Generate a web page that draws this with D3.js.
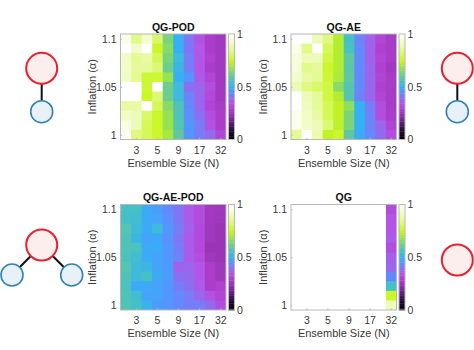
<!DOCTYPE html>
<html>
<head>
<meta charset="utf-8">
<script src="https://cdn.jsdelivr.net/npm/d3@7"></script>
<style>
  html, body { margin: 0; padding: 0; background: #fff; overflow: hidden; }
  text { font-family: "Liberation Sans", Arial, sans-serif; fill: #3a3a3a; }
</style>
</head>
<body>
<div id="main"></div>
<script>
// --- data
const ensembleSizes = [2, 3, 4, 5, 7, 9, 13, 17, 25, 32];
const inflations = [1.1, 1.09, 1.08, 1.07, 1.06, 1.05, 1.04, 1.03, 1.02, 1.01, 1];
const xTickLabels = [3, 5, 9, 17, 32];
const yTickLabels = [1, 1.05, 1.1];
const colorTicks = [0, 0.5, 1];

// rows run from inflation 1.1 down to 1
const qgPod = [
  [0.97, 0.85, 0.93, 0.82, 0.64, 0.50, 0.41, 0.34, 0.29, 0.27],
  [1.00, 0.92, 1.00, 0.76, 0.66, 0.50, 0.41, 0.35, 0.29, 0.27],
  [0.92, 0.86, 0.88, 0.80, 0.64, 0.53, 0.42, 0.35, 0.30, 0.27],
  [0.93, 0.87, 0.87, 0.83, 0.62, 0.52, 0.42, 0.35, 0.29, 0.27],
  [0.92, 0.86, 0.77, 0.77, 0.68, 0.50, 0.46, 0.36, 0.31, 0.27],
  [1.00, 1.00, 0.77, 1.00, 0.62, 0.53, 0.40, 0.38, 0.33, 0.27],
  [1.00, 1.00, 0.76, 0.83, 0.62, 0.53, 0.43, 0.38, 0.32, 0.27],
  [0.88, 0.88, 1.00, 0.80, 0.66, 0.57, 0.44, 0.38, 0.31, 0.28],
  [0.92, 0.90, 0.82, 0.76, 0.68, 0.57, 0.45, 0.40, 0.33, 0.29],
  [0.96, 0.90, 0.80, 0.76, 0.68, 0.58, 0.46, 0.42, 0.34, 0.29],
  [0.98, 0.84, 0.80, 0.76, 0.70, 0.60, 0.46, 0.42, 0.39, 0.31]
];
const qgAe = [
  [1.00, 1.00, 0.90, 0.84, 0.72, 0.55, 0.43, 0.37, 0.31, 0.28],
  [0.97, 0.85, 1.00, 0.80, 0.72, 0.56, 0.44, 0.37, 0.30, 0.28],
  [0.95, 0.90, 0.90, 0.78, 0.72, 0.60, 0.44, 0.37, 0.31, 0.28],
  [0.95, 0.85, 0.87, 0.76, 0.72, 0.59, 0.44, 0.38, 0.30, 0.27],
  [0.93, 0.88, 0.86, 0.77, 0.71, 0.60, 0.44, 0.38, 0.31, 0.28],
  [0.90, 0.84, 0.82, 0.78, 0.66, 0.58, 0.44, 0.38, 0.30, 0.28],
  [1.00, 0.90, 0.87, 0.78, 0.72, 0.58, 0.43, 0.38, 0.31, 0.28],
  [1.00, 0.91, 0.87, 0.80, 0.74, 0.67, 0.50, 0.42, 0.33, 0.28],
  [0.97, 0.92, 0.88, 0.80, 0.74, 0.64, 0.50, 0.43, 0.33, 0.29],
  [0.97, 0.92, 0.90, 0.83, 0.73, 0.64, 0.50, 0.43, 0.38, 0.31],
  [0.86, 1.00, 0.89, 0.74, 0.76, 0.60, 0.49, 0.44, 0.39, 0.33]
];
const qgAePod = [
  [0.55, 0.55, 0.49, 0.47, 0.44, 0.41, 0.36, 0.33, 0.27, 0.26],
  [0.55, 0.54, 0.49, 0.48, 0.45, 0.41, 0.36, 0.33, 0.27, 0.26],
  [0.58, 0.53, 0.49, 0.53, 0.46, 0.42, 0.37, 0.32, 0.26, 0.25],
  [0.57, 0.52, 0.48, 0.49, 0.45, 0.41, 0.36, 0.32, 0.26, 0.25],
  [0.57, 0.56, 0.49, 0.49, 0.46, 0.42, 0.36, 0.32, 0.25, 0.25],
  [0.56, 0.54, 0.49, 0.48, 0.46, 0.43, 0.36, 0.33, 0.26, 0.25],
  [0.58, 0.53, 0.52, 0.48, 0.47, 0.37, 0.38, 0.35, 0.29, 0.26],
  [0.57, 0.53, 0.55, 0.49, 0.47, 0.40, 0.39, 0.35, 0.29, 0.26],
  [0.56, 0.49, 0.49, 0.48, 0.46, 0.42, 0.40, 0.36, 0.29, 0.30],
  [0.57, 0.54, 0.48, 0.48, 0.46, 0.44, 0.42, 0.38, 0.34, 0.31],
  [0.57, 0.55, 0.51, 0.47, 0.46, 0.44, 0.42, 0.42, 0.39, 0.33]
];
// QG only has values for the largest ensemble, the rest diverged
const qgLastColumn = [0.33, 0.35, 0.35, 0.36, 0.33, 0.37, 0.38, 0.44, 0.55, 0.76, 0.90];

const colorStops = [0, 0.1, 0.2, 0.25, 0.3, 0.35, 0.4, 0.45, 0.5, 0.55, 0.6, 0.65, 0.7, 0.75, 0.8, 0.9, 1];
const colorValues = ['#000000', '#2a1040', '#7a2a9a', '#9a35b8', '#b040d0', '#b455e8', '#8a70f0', '#5a90ff',
  '#35b0f5', '#45c0c8', '#60c8a0', '#80d870', '#a5e840', '#c8f520', '#d5f858', '#eefbb8', '#ffffff'];

const color = d3.scaleLinear().domain(colorStops).range(colorValues).clamp(true);

const svg = d3.select('#main')
  .append('svg')
  .attr('width', 474)
  .attr('height', 350);

// the reference is a soft raster, cells bleed into each other a little
svg.append('defs').append('filter')
  .attr('id', 'soft')
  .append('feGaussianBlur')
  .attr('stdDeviation', 0.5);

const axW = 105.5;
const axH = 105.5;
const gray = '#b8b8b8';
let panelCount = 0;

function drawPanel(title, rows, left, top, labelX) {
  const g = svg.append('g').attr('transform', `translate(${left}, ${top})`);

  const xBand = d3.scaleBand().domain(ensembleSizes).range([0, axW]);
  const yBand = d3.scaleBand().domain(inflations).range([0, axH]);
  const yLinear = d3.scaleLinear().domain([1, 1.1])
    .range([axH - yBand.bandwidth() / 2, yBand.bandwidth() / 2]);

  const clipId = `clip${panelCount++}`;
  svg.select('defs').append('clipPath')
    .attr('id', clipId)
    .append('rect')
    .attr('width', axW)
    .attr('height', axH);

  const cells = g.append('g').attr('clip-path', `url(#${clipId})`)
    .append('g').attr('filter', 'url(#soft)');

  // cells, null means nothing is painted
  rows.forEach((row, i) => {
    row.forEach((v, j) => {
      if (v === null) return;
      cells.append('rect')
        .attr('x', xBand(ensembleSizes[j]))
        .attr('y', yBand(inflations[i]))
        .attr('width', xBand.bandwidth() + 1)
        .attr('height', yBand.bandwidth() + 1)
        .attr('fill', color(v));
    });
  });

  // box
  g.append('rect')
    .attr('width', axW)
    .attr('height', axH)
    .attr('fill', 'none')
    .attr('stroke', gray);

  const xAxis = g.append('g')
    .attr('transform', `translate(0, ${axH})`)
    .call(d3.axisBottom(xBand).tickValues(xTickLabels).tickSize(-1.5).tickPadding(7));
  const yAxis = g.append('g')
    .call(d3.axisLeft(yLinear).tickValues(yTickLabels).tickSize(-1.5).tickPadding(4)
      .tickFormat(d3.format('')));

  [xAxis, yAxis].forEach(a => {
    a.select('.domain').remove();
    a.selectAll('line').attr('stroke', gray);
    a.selectAll('text').attr('font-size', 10.5).attr('fill', '#3a3a3a')
      .attr('font-family', '"Liberation Sans", Arial, sans-serif');
  });

  g.append('text')
    .attr('x', axW / 2)
    .attr('y', -3.2)
    .attr('text-anchor', 'middle')
    .attr('font-size', 10.5)
    .attr('font-weight', 'bold')
    .style('fill', '#111')
    .text(title);

  g.append('text')
    .attr('x', axW / 2)
    .attr('y', axH + 27)
    .attr('text-anchor', 'middle')
    .attr('font-size', 11)
    .text('Ensemble Size (N)');

  g.append('text')
    .attr('transform', `translate(${labelX - left}, ${axH / 2}) rotate(-90)`)
    .attr('text-anchor', 'middle')
    .attr('font-size', 11)
    .text('Inflation (\u03b1)');

  // colorbar
  const cbX = axW + 2.5;
  const cbW = 6;
  const cbScale = d3.scaleLinear().domain([0, 1]).range([axH, 0]);
  d3.range(0, 1, 1 / 64).forEach(v => {
    g.append('rect')
      .attr('x', cbX)
      .attr('y', cbScale(v + 1 / 64))
      .attr('width', cbW)
      .attr('height', axH / 64 + 0.4)
      .attr('fill', color(v + 1 / 128));
  });
  g.append('rect')
    .attr('x', cbX)
    .attr('width', cbW)
    .attr('height', axH)
    .attr('fill', 'none')
    .attr('stroke', gray);
  const cbAxis = g.append('g')
    .attr('transform', `translate(${cbX + cbW}, 0)`)
    .call(d3.axisRight(cbScale).tickValues(colorTicks).tickSize(0).tickPadding(2.5).tickFormat(d3.format('')));
  cbAxis.select('.domain').remove();
  cbAxis.selectAll('text').attr('font-size', 10.5).attr('fill', '#3a3a3a')
    .attr('font-family', '"Liberation Sans", Arial, sans-serif');
}

drawPanel('QG-POD', qgPod, 120.5, 34, 96);
drawPanel('QG-AE', qgAe, 291, 34, 267);
drawPanel('QG-AE-POD', qgAePod, 120.5, 204.5, 96);
drawPanel('QG', inflations.map((d, i) => ensembleSizes.map((n, j) => j === 9 ? qgLastColumn[i] : null)), 291, 204.5, 267);

// --- little network diagrams beside the panels
const bigNode = { r: 15.5, fill: '#fdeeee', stroke: '#e8212e' };
const smallNode = { r: 11, fill: '#e9f1f8', stroke: '#2f82b6' };

function drawNetwork(big, smalls) {
  smalls.forEach(s => {
    svg.append('line')
      .attr('x1', big[0]).attr('y1', big[1])
      .attr('x2', s[0]).attr('y2', s[1])
      .attr('stroke', '#111')
      .attr('stroke-width', 2);
  });
  smalls.forEach(s => {
    svg.append('circle')
      .attr('cx', s[0]).attr('cy', s[1]).attr('r', smallNode.r)
      .attr('fill', smallNode.fill).attr('stroke', smallNode.stroke).attr('stroke-width', 1.6);
  });
  svg.append('circle')
    .attr('cx', big[0]).attr('cy', big[1]).attr('r', bigNode.r)
    .attr('fill', bigNode.fill).attr('stroke', bigNode.stroke).attr('stroke-width', 2);
}

drawNetwork([41.7, 68.3], [[41.7, 111.7]]);
drawNetwork([457.3, 68.3], [[457.3, 111.7]]);
drawNetwork([41.7, 245], [[12, 275], [71.7, 275]]);
drawNetwork([457.3, 260], []);
</script>
</body>
</html>
